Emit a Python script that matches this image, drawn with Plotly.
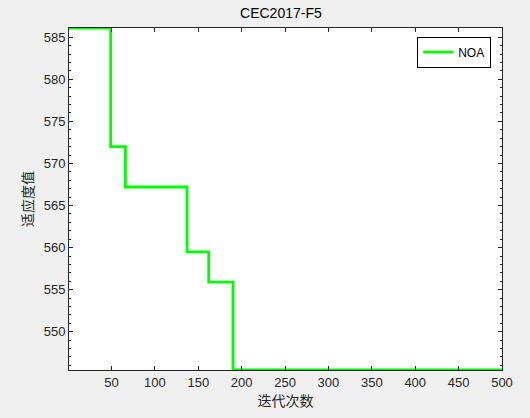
import plotly.graph_objects as go

# Breakpoints of the best-so-far convergence curve (iteration, fitness)
iterations = [1, 49, 66, 137, 162, 190, 500]
fitness = [586.1, 572.0, 567.2, 559.5, 555.9, 545.45, 545.45]
series_name = "NOA"
x_ticks = [50, 100, 150, 200, 250, 300, 350, 400, 450, 500]
y_ticks = [550, 555, 560, 565, 570, 575, 580, 585]

fig = go.Figure()
fig.add_trace(go.Scatter(
    x=iterations, y=fitness, mode="lines", name=series_name,
    line=dict(color="#00ff00", width=2.8, shape="hv"),
))

axis_font = dict(family="Liberation Sans, Arial, sans-serif", size=13, color="#262626")
fig.update_layout(
    width=530, height=418,
    paper_bgcolor="#f0f0f0", plot_bgcolor="white",
    margin=dict(l=69, r=28, t=28, b=48),
    title=dict(text="CEC2017-F5", x=0.53, xanchor="center", y=0.968, yanchor="middle",
               font=dict(family="Liberation Sans, Arial, sans-serif", size=14, color="black")),
    showlegend=True,
    legend=dict(x=0.975, xanchor="right", y=0.975, yanchor="top",
                bgcolor="white", bordercolor="black", borderwidth=1,
                font=dict(family="Liberation Sans, Arial, sans-serif", size=12, color="black"),
                itemwidth=30, tracegroupgap=0),
    xaxis=dict(range=[1, 500], tickvals=x_ticks, ticks="inside", ticklen=4,
               tickcolor="#262626", showline=True, linecolor="#262626", linewidth=1,
               mirror="ticks", showgrid=False, zeroline=False, tickfont=axis_font,
               title=dict(text="迭代次数", standoff=6,
                          font=dict(family="Noto Sans CJK SC", size=14, color="#262626"))),
    yaxis=dict(range=[545.45, 586.1], tickvals=y_ticks, ticks="inside", ticklen=4,
               tickcolor="#262626", showline=True, linecolor="#262626", linewidth=1,
               mirror="ticks", showgrid=False, zeroline=False, tickfont=axis_font,
               minor=dict(ticks="inside", dtick=1, ticklen=2, tickcolor="#262626", showgrid=False),
               title=dict(text="适应度值", standoff=6,
                          font=dict(family="Noto Sans CJK SC", size=14, color="#262626"))),
)
fig.write_html(
    "out.html",
    config={"displayModeBar": False},
    post_script="document.body.style.margin='0';document.body.style.background='#f0f0f0';",
)
